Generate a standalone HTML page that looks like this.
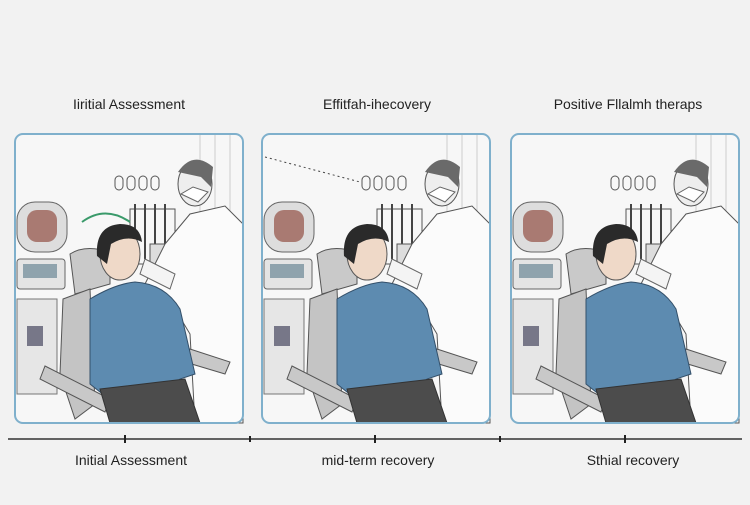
<!DOCTYPE html>
<html><head><style>
body{margin:0;background:#f2f2f2;width:750px;height:500px;overflow:hidden;font-family:"Liberation Sans",sans-serif}
</style></head><body>
<svg width="750" height="500" viewBox="0 0 750 500" xmlns="http://www.w3.org/2000/svg">
<rect width="750" height="500" fill="#f2f2f2"/>
<defs>
<g id="scene">
<rect x="0" y="0" width="228" height="289" rx="8" fill="#f7f7f7"/>
<line x1="185" y1="0" x2="185" y2="120" stroke="#ccc"/><line x1="200" y1="0" x2="200" y2="120" stroke="#ccc"/><line x1="215" y1="0" x2="215" y2="289" stroke="#ccc"/>
<rect x="2" y="68" width="50" height="50" rx="18" fill="#ddd" stroke="#666"/>
<rect x="12" y="76" width="30" height="32" rx="10" fill="#a97a72"/>
<rect x="2" y="125" width="48" height="30" rx="3" fill="#e4e4e4" stroke="#666"/>
<rect x="8" y="130" width="34" height="14" fill="#8fa3ad"/>
<rect x="2" y="165" width="40" height="95" fill="#e6e6e6" stroke="#777"/>
<rect x="12" y="192" width="16" height="20" fill="#778" />
<rect x="100" y="42" width="8" height="14" rx="4" fill="none" stroke="#555"/><rect x="112" y="42" width="8" height="14" rx="4" fill="none" stroke="#555"/><rect x="124" y="42" width="8" height="14" rx="4" fill="none" stroke="#555"/><rect x="136" y="42" width="8" height="14" rx="4" fill="none" stroke="#555"/>
<rect x="115" y="75" width="45" height="55" fill="none" stroke="#555"/>
<line x1="120" y1="70" x2="120" y2="125" stroke="#444" stroke-width="2"/><line x1="130" y1="70" x2="130" y2="125" stroke="#444" stroke-width="2"/><line x1="140" y1="70" x2="140" y2="125" stroke="#444" stroke-width="2"/><line x1="150" y1="70" x2="150" y2="125" stroke="#444" stroke-width="2"/>
<rect x="135" y="110" width="28" height="20" fill="#ddd" stroke="#555"/>
<path d="M150 110 L175 80 L210 72 L228 90 L228 289 L180 289 L175 200 L160 175 L130 150 L140 130 Z" fill="#fbfbfb" stroke="#555"/>
<ellipse cx="180" cy="50" rx="17" ry="22" fill="#eee" stroke="#555"/>
<path d="M163 38 Q178 16 198 33 L196 53 L186 43 Z" fill="#6a6a6a"/>
<path d="M166 60 L183 68 L193 58 L178 53 Z" fill="#fff" stroke="#666"/>
<path d="M130 125 L160 140 L155 155 L125 140 Z" fill="#f4f4f4" stroke="#666"/>
<path d="M55 120 Q70 110 95 118 L95 150 L60 160 Z" fill="#c9c9c9" stroke="#555"/>
<path d="M48 165 L75 155 L80 270 L60 285 L45 240 Z" fill="#c4c4c4" stroke="#555"/>
<path d="M30 232 L95 265 L90 278 L25 245 Z" fill="#c8c8c8" stroke="#555"/>
<path d="M175 215 L215 228 L210 240 L170 228 Z" fill="#c8c8c8" stroke="#555"/>
<path d="M75 165 Q100 150 120 148 Q150 150 165 175 L180 240 L165 245 L160 250 L120 260 L90 262 L75 250 Z" fill="#5d8bb0" stroke="#34506a"/>
<path d="M85 255 L170 245 L185 289 L95 289 Z" fill="#4c4c4c" stroke="#333"/>
<ellipse cx="105" cy="120" rx="20" ry="26" fill="#efd9c8" stroke="#555"/>
<path d="M82 122 Q80 92 105 90 Q125 90 127 108 Q112 100 96 110 L92 130 Z" fill="#2a2a2a"/>
</g>
</defs>
<g font-size="14" fill="#222" text-anchor="middle">
<text x="129" y="109">Iiritial Assessment</text>
<text x="377" y="109">Effitfah-ihecovery</text>
<text x="628" y="109">Positive Fllalmh theraps</text>
</g>
<use href="#scene" x="15" y="134"/>
<use href="#scene" x="262" y="134"/>
<use href="#scene" x="511" y="134"/>
<rect x="15" y="134" width="228" height="289" rx="8" fill="none" stroke="#7fb0cc" stroke-width="2"/>
<rect x="262" y="134" width="228" height="289" rx="8" fill="none" stroke="#7fb0cc" stroke-width="2"/>
<rect x="511" y="134" width="228" height="289" rx="8" fill="none" stroke="#7fb0cc" stroke-width="2"/>
<path d="M82 222 Q105 205 130 222" fill="none" stroke="#3a9a6a" stroke-width="2"/>
<line x1="265" y1="157" x2="360" y2="182" stroke="#444" stroke-dasharray="2 3"/>
<line x1="8" y1="439" x2="742" y2="439" stroke="#333" stroke-width="1.5"/>
<g stroke="#222" stroke-width="2"><line x1="125" y1="435" x2="125" y2="443"/><line x1="250" y1="436" x2="250" y2="442"/><line x1="375" y1="435" x2="375" y2="443"/><line x1="500" y1="436" x2="500" y2="442"/><line x1="625" y1="435" x2="625" y2="443"/></g>
<g font-size="14" fill="#222" text-anchor="middle">
<text x="131" y="465">Initial Assessment</text>
<text x="378" y="465">mid-term recovery</text>
<text x="633" y="465">Sthial recovery</text>
</g>
</svg>
</body></html>
